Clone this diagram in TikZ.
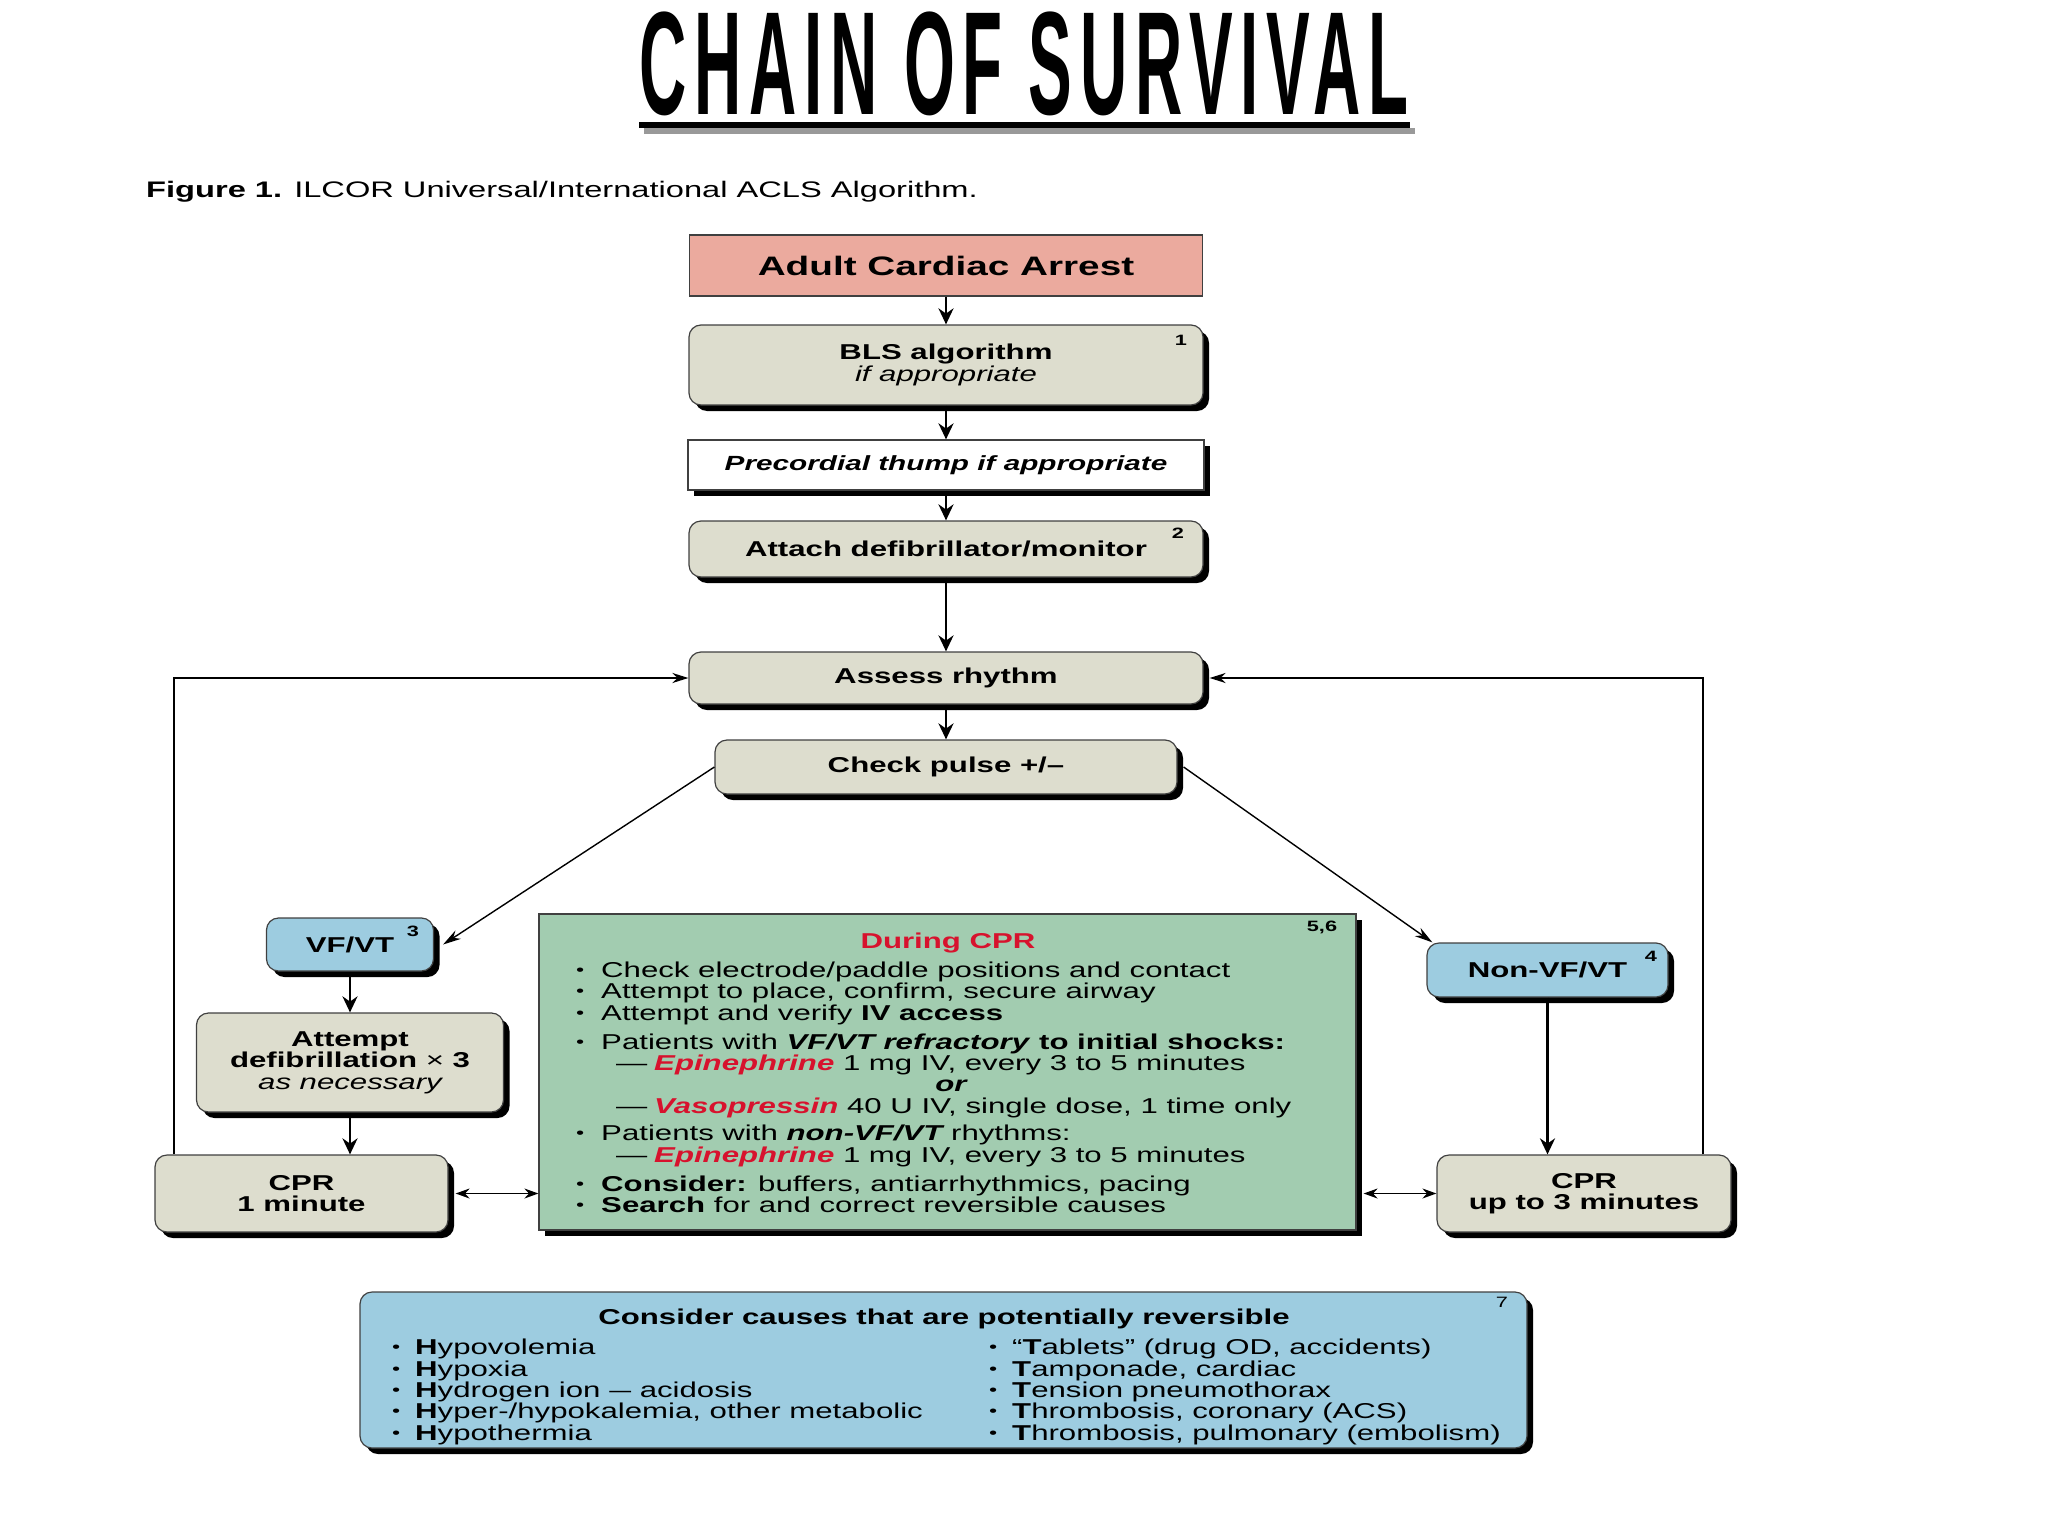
\documentclass[tikz,border=0pt]{standalone}
\usepackage{fontspec}
\setmainfont[FakeStretch=1.45]{Liberation Sans}
\newfontfamily\titlefont[FakeStretch=0.445,LetterSpace=5.3]{Liberation Sans}
\usetikzlibrary{shadows,arrows.meta}
\definecolor{boxgray}{RGB}{221,221,206}
\definecolor{boxblue}{RGB}{157,204,224}
\definecolor{boxgreen}{RGB}{162,204,176}
\definecolor{boxsalmon}{RGB}{235,170,158}
\definecolor{drugred}{RGB}{215,18,45}
\newcommand{\setfs}[1]{\fontsize{#1pt}{#1pt}\selectfont}
\newcommand{\bul}[1][25pt]{\makebox[#1][l]{\raisebox{2pt}{\setfs{16}•}}}
\newcommand{\dsh}{\makebox[38pt][l]{—}}
\newcommand{\drug}[1]{\textcolor{drugred}{\bfseries\itshape #1}}
\tikzset{
  box/.style={draw=black!75, line width=1.2pt, inner sep=0pt, align=center, font=\setfs{21.5}\bfseries},
  rbox/.style={box, rounded corners=12pt},
  shad/.style={drop shadow={shadow xshift=6pt, shadow yshift=-6pt, fill=black, opacity=1}},
  lab/.style={inner sep=0pt, font=\setfs{15}\bfseries},
  ln/.style={anchor=base west, inner sep=0pt, font=\setfs{21.5}},
  main/.style={line width=2.6pt, -{Stealth[length=16pt,width=15pt]}},
  thinarr/.style={line width=1.4pt, -{Stealth[length=18pt,width=10pt]}},
  looparr/.style={line width=2pt, -{Stealth[length=16pt,width=10pt]}},
  dbl/.style={line width=1.6pt, {Stealth[length=14pt,width=10pt]}-{Stealth[length=14pt,width=10pt]}}
}
\begin{document}
\begin{tikzpicture}[x=1pt,y=-1pt]
\useasboundingbox (0,0) rectangle (2048,1536);
% title
\node[anchor=base, inner sep=0pt] (title) at (1024,115) {\titlefont\fontsize{147pt}{147pt}\selectfont\bfseries CHAIN OF SURVIVAL};
\fill[black!40] (644,128) rectangle (1415,134);
\fill[black] (639,122) rectangle (1410,128);
% caption
\node[anchor=base west, inner sep=0pt] (caption) at (146,197) {\setfs{22.5}\textbf{Figure 1.} ILCOR Universal/International ACLS Algorithm.};
% main column
\node[box, fill=boxsalmon, minimum width=513pt, minimum height=61pt, font=\setfs{26.7}\bfseries] (adult) at (946,265.5) {Adult Cardiac Arrest};
\node[rbox, shad, fill=boxgray, minimum width=514pt, minimum height=80pt] (bls) at (946,365) {BLS algorithm\\[1pt]{\mdseries\itshape if appropriate}};
\node[box, shad, fill=white, minimum width=516pt, minimum height=50pt, font=\setfs{20.5}\bfseries\itshape] (thump) at (946,465) {Precordial thump if appropriate};
\node[rbox, shad, fill=boxgray, minimum width=514pt, minimum height=56pt] (attach) at (946,549) {Attach defibrillator/monitor};
\node[rbox, shad, fill=boxgray, minimum width=514pt, minimum height=52pt] (assess) at (946,678) {Assess rhythm};
\node[rbox, shad, fill=boxgray, minimum width=462pt, minimum height=54pt] (pulse) at (946,767) {Check pulse +/–};
% left branch
\node[rbox, shad, fill=boxblue, minimum width=167pt, minimum height=53pt] (vf) at (350,944.5) {VF/VT};
\node[rbox, shad, fill=boxgray, minimum width=307pt, minimum height=99pt] (defib) at (350,1062.5) {Attempt\\defibrillation {\mdseries ×} 3\\{\mdseries\itshape as necessary}};
\node[rbox, shad, fill=boxgray, minimum width=293pt, minimum height=77pt] (cpr1) at (301.5,1193.5) {CPR\\1 minute};
% centre box
\node[box, shad, fill=boxgreen, minimum width=817pt, minimum height=316pt] (during) at (947.5,1072) {};
% right branch
\node[rbox, shad, fill=boxblue, minimum width=241pt, minimum height=54pt] (nonvf) at (1547.5,970) {Non-VF/VT};
\node[rbox, shad, fill=boxgray, minimum width=294pt, minimum height=77pt] (cpr3) at (1584,1193.5) {CPR\\up to 3 minutes};
% bottom box
\node[rbox, shad, fill=boxblue, minimum width=1167pt, minimum height=156pt] (causes) at (943.5,1370) {};
% number labels
\node[lab] (l1) at (1181,340) {1};
\node[lab] (l2) at (1178,533) {2};
\node[lab] (l3) at (413,931) {3};
\node[lab] (l4) at (1651,956) {4};
\node[lab] (l56) at (1322,927) {5,6};
\node[lab, font=\setfs{15}] (l7) at (1502,1302) {7};
% During CPR text
\node[anchor=base, inner sep=0pt, font=\setfs{21.5}\bfseries, text=drugred] (dtitle) at (948,948) {During CPR};
\node[ln] (d1) at (576,977) {\bul Check electrode/paddle positions and contact};
\node[ln] (d2) at (576,998) {\bul Attempt to place, confirm, secure airway};
\node[ln] (d3) at (576,1020) {\bul Attempt and verify \textbf{IV access}};
\node[ln] (d4) at (576,1049) {\bul Patients with {\bfseries\itshape VF/VT refractory} \textbf{to initial shocks:}};
\node[ln] (d5) at (616,1070) {\dsh\drug{Epinephrine} 1 mg IV, every 3 to 5 minutes};
\node[anchor=base, inner sep=0pt, font=\setfs{21.5}\bfseries\itshape] (d6) at (951,1091) {or};
\node[ln] (d7) at (616,1113) {\dsh\drug{Vasopressin} 40 U IV, single dose, 1 time only};
\node[ln] (d8) at (576,1140) {\bul Patients with {\bfseries\itshape non-VF/VT} rhythms:};
\node[ln] (d9) at (616,1162) {\dsh\drug{Epinephrine} 1 mg IV, every 3 to 5 minutes};
\node[ln] (d10) at (576,1191) {\bul \textbf{Consider:} buffers, antiarrhythmics, pacing};
\node[ln] (d11) at (576,1212) {\bul \textbf{Search} for and correct reversible causes};
% causes text
\node[anchor=base, inner sep=0pt, font=\setfs{21.5}\bfseries] (ctitle) at (944,1324) {Consider causes that are potentially reversible};
\node[ln] (h1) at (392,1354) {\bul[23pt]\textbf{H}ypovolemia};
\node[ln] (h2) at (392,1376) {\bul[23pt]\textbf{H}ypoxia};
\node[ln] (h3) at (392,1397) {\bul[23pt]\textbf{H}ydrogen ion \scalebox{0.7}[1]{—} acidosis};
\node[ln] (h4) at (392,1418) {\bul[23pt]\textbf{H}yper-/hypokalemia, other metabolic};
\node[ln] (h5) at (392,1440) {\bul[23pt]\textbf{H}ypothermia};
\node[ln] (t1) at (989,1354) {\bul[23pt]“\textbf{T}ablets” (drug OD, accidents)};
\node[ln] (t2) at (989,1376) {\bul[23pt]\textbf{T}amponade, cardiac};
\node[ln] (t3) at (989,1397) {\bul[23pt]\textbf{T}ension pneumothorax};
\node[ln] (t4) at (989,1418) {\bul[23pt]\textbf{T}hrombosis, coronary (ACS)};
\node[ln] (t5) at (989,1440) {\bul[23pt]\textbf{T}hrombosis, pulmonary (embolism)};
% connectors
\draw[main] (adult.south) -- (bls.north);
\draw[main] (bls.south) -- (thump.north);
\draw[main] (thump.south) -- (attach.north);
\draw[main] (attach.south) -- (assess.north);
\draw[main] (assess.south) -- (pulse.north);
\draw[thinarr] (pulse.west) -- ([xshift=9pt]vf.east);
\draw[thinarr] ([xshift=6pt]pulse.east) -- ([xshift=6pt]nonvf.north west);
\draw[main] (vf.south) -- (vf.south |- defib.north);
\draw[main] (defib.south) -- (defib.south |- cpr1.north);
\draw[main] (nonvf.south) -- (nonvf.south |- cpr3.north);
\draw[dbl] ([xshift=7pt]cpr1.east) -- (cpr1.east -| during.west);
\draw[dbl] ([xshift=7pt]during.east |- cpr3.west) -- (cpr3.west);
\draw[looparr] ([xshift=-127.5pt]cpr1.north) |- (assess.west);
\draw[looparr] ([xshift=119pt]cpr3.north) |- ([xshift=6pt]assess.east);
\end{tikzpicture}
\end{document}
